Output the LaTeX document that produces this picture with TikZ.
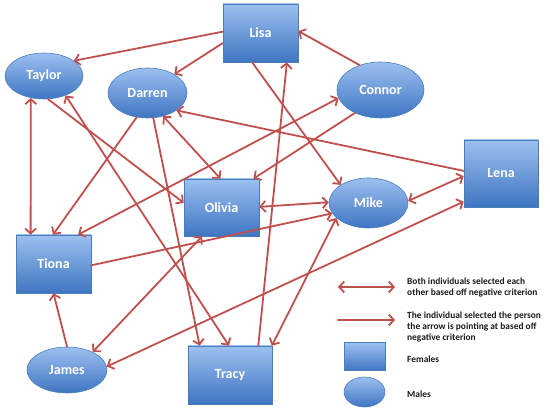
\documentclass[tikz,border=0pt]{standalone}
\usepackage{fontspec}
\setmainfont{Carlito}
\usetikzlibrary{arrows.meta,shapes.geometric,calc}
\definecolor{edgered}{HTML}{C0504D}
\definecolor{ntop}{HTML}{9CC0F0}
\definecolor{nbot}{HTML}{3F75C2}
\definecolor{nborder}{HTML}{4A7EBB}
\definecolor{legtext}{HTML}{1A1A1A}
\tikzset{
  base/.style={draw=nborder, line width=0.6pt, top color=ntop, bottom color=nbot,
    text=white, font=\bfseries\fontsize{14}{16}\selectfont, inner sep=0pt},
  female/.style={base, rectangle},
  male/.style={base, ellipse},
  link/.style={draw=edgered, line width=1.8pt, line cap=round,
    -{Straight Barb[length=5pt,width=11pt]}},
  mutual/.style={draw=edgered, line width=1.8pt, line cap=round,
    {Straight Barb[length=5pt,width=11pt]}-{Straight Barb[length=5pt,width=11pt]}},
  legend/.style={anchor=west, align=left, text=legtext, inner sep=0pt,
    font=\bfseries\fontsize{9.4}{11}\selectfont}
}
\begin{document}
\begin{tikzpicture}[x=1pt,y=-1pt]
\useasboundingbox (0,0) rectangle (550,414);
% nodes
\node[female, minimum width=75pt, minimum height=58pt] (Lisa) at (260.5,33) {Lisa};
\node[male, minimum width=78pt, minimum height=46pt] (Taylor) at (44,76) {Taylor};
\node[male, minimum width=79pt, minimum height=50pt] (Darren) at (147.5,93) {Darren};
\node[male, minimum width=87pt, minimum height=56pt] (Connor) at (380.5,90) {Connor};
\node[female, minimum width=74pt, minimum height=67pt] (Lena) at (501,173.5) {Lena};
\node[male, minimum width=79pt, minimum height=50pt] (Mike) at (368.5,203) {Mike};
\node[female, minimum width=75pt, minimum height=57pt] (Olivia) at (221.5,207.5) {Olivia};
\node[female, minimum width=75pt, minimum height=58pt] (Tiona) at (53.5,264) {Tiona};
\node[male, minimum width=80pt, minimum height=46pt] (James) at (67,370) {James};
\node[female, minimum width=84pt, minimum height=58pt] (Tracy) at (230,375) {Tracy};

% connectors
\draw[link] (Lisa.178) -- (Taylor.27);
\draw[link] (Lisa.195) -- (Darren.35);
\draw[link] (Connor.130) -- (Lisa.3);
\draw[link] (Lisa.254) -- (Mike.147);
\draw[link] (Tracy.46) -- (Lisa.312);
\draw[mutual] (Taylor.239) -- (Tiona.128);
\draw[link] (Taylor.280) -- (Olivia.173);
\draw[mutual] (Taylor.318) -- (Tracy.92);
\draw[link] (Darren.246) -- (Tiona.91);
\draw[mutual] (Darren.304) -- (Olivia.92);
\draw[link] (Darren.283) -- (Tracy.136);
\draw[link] (Lena.176) -- (Darren.329);
\draw[mutual] (Connor.191) -- (Tiona.50);
\draw[link] (Connor.222) -- (Olivia.42);
\draw[mutual] (Olivia.1) -- (Mike.179);
\draw[mutual] (Mike.3) -- (Lena.184);
\draw[link] (Tiona.358) -- (Mike.196);
\draw[link] (James.90) -- (Tiona.270);
\draw[mutual] (James.35) -- (Olivia.236);
\draw[mutual] (James.5) -- (Lena.217);
\draw[mutual] (Mike.205) -- (Tracy.35);

% legend
\coordinate (la1) at (338,287);
\coordinate (la2) at (395,287);
\coordinate (lb1) at (338,320);
\coordinate (lb2) at (395,320);
\draw[mutual] (la1) -- (la2);
\draw[link] (lb1) -- (lb2);
\node[legend] (t1) at (407,287.5) {Both individuals selected each\\other based off negative criterion};
\node[legend] (t2) at (407,326.5) {The individual selected the person\\the arrow is pointing at based off\\negative criterion};
\node[female, minimum width=41pt, minimum height=28pt] (kf) at (364.5,356.5) {};
\node[male, minimum width=41pt, minimum height=30pt] (km) at (364.5,392) {};
\node[legend] (t3) at (407,359) {Females};
\node[legend] (t4) at (407,394) {Males};
\end{tikzpicture}
\end{document}
